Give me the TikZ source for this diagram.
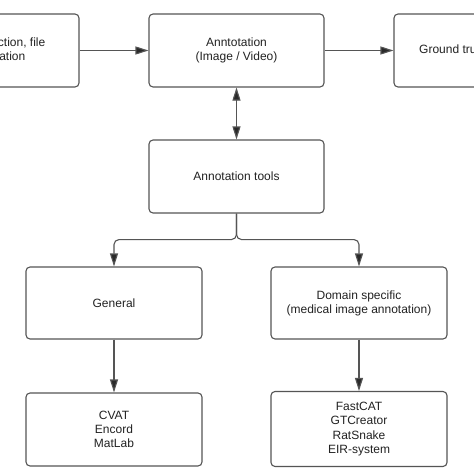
\documentclass[tikz,border=0pt]{standalone}
\usepackage{fontspec}
\setmainfont{Liberation Sans}
\usetikzlibrary{arrows.meta}
\definecolor{boxline}{HTML}{555555}
\definecolor{tipcol}{HTML}{2A2A2A}
\definecolor{txt}{HTML}{222222}
\tikzset{
  box/.style={draw=boxline, line width=1.1pt, rounded corners=4pt, minimum width=175pt, minimum height=73pt, inner sep=0pt, align=center, text=txt, font=\fontsize{12}{14.2}\selectfont},
  lbl/.style={inner sep=0pt, align=center, text=txt, font=\fontsize{12}{14.2}\selectfont},
  conn/.style={draw=boxline, line width=1.1pt, -{Triangle[length=13pt,width=8pt,fill=tipcol]}},
  dconn/.style={draw=boxline, line width=1.1pt, {Triangle[length=13pt,width=8pt,fill=tipcol]}-{Triangle[length=13pt,width=8pt,fill=tipcol]}}
}
\begin{document}
\begin{tikzpicture}[x=1pt,y=-1pt]
\useasboundingbox (0,0) rectangle (474,474);
\clip (0,0) rectangle (474,474);
\fill[white] (0,0) rectangle (474,474);
\node[box] (left) at (-8.5,50.5) {};
\node[lbl] (lefttext) at (-5,50.5) {Data collection, file\\preparation};
\node[box] (mid) at (236.5,50.5) {Anntotation\\(Image / Video)};
\node[box] (right) at (481.5,50.5) {};
\node[lbl, anchor=west] (righttext) at (419,50.5) {Ground truth generation};
\node[box] (tools) at (236.5,176.5) {Annotation tools};
\node[box, minimum width=176pt, minimum height=72pt] (gen) at (114,303) {General};
\node[box, minimum width=176pt, minimum height=72pt] (dom) at (359,303) {Domain specific\\(medical image annotation)};
\node[box, minimum width=176pt] (cvat) at (114,429.5) {CVAT\\Encord\\MatLab};
\node[box, minimum width=176pt, minimum height=75pt] (fast) at (359,429) {FastCAT\\GTCreator\\RatSnake\\EIR-system};
\draw[conn] (left.east) -- (mid.west);
\draw[conn] (mid.east) -- (right.west);
\draw[dconn] (mid.south) -- (tools.north);
\draw[conn, rounded corners=5pt] (tools.south) -- ++(0,26) -| (gen.north);
\draw[conn, rounded corners=5pt] (tools.south) -- ++(0,26) -| (dom.north);
\draw[conn] (gen.south) -- (cvat.north);
\draw[conn] (dom.south) -- (fast.north);
\end{tikzpicture}
\end{document}
